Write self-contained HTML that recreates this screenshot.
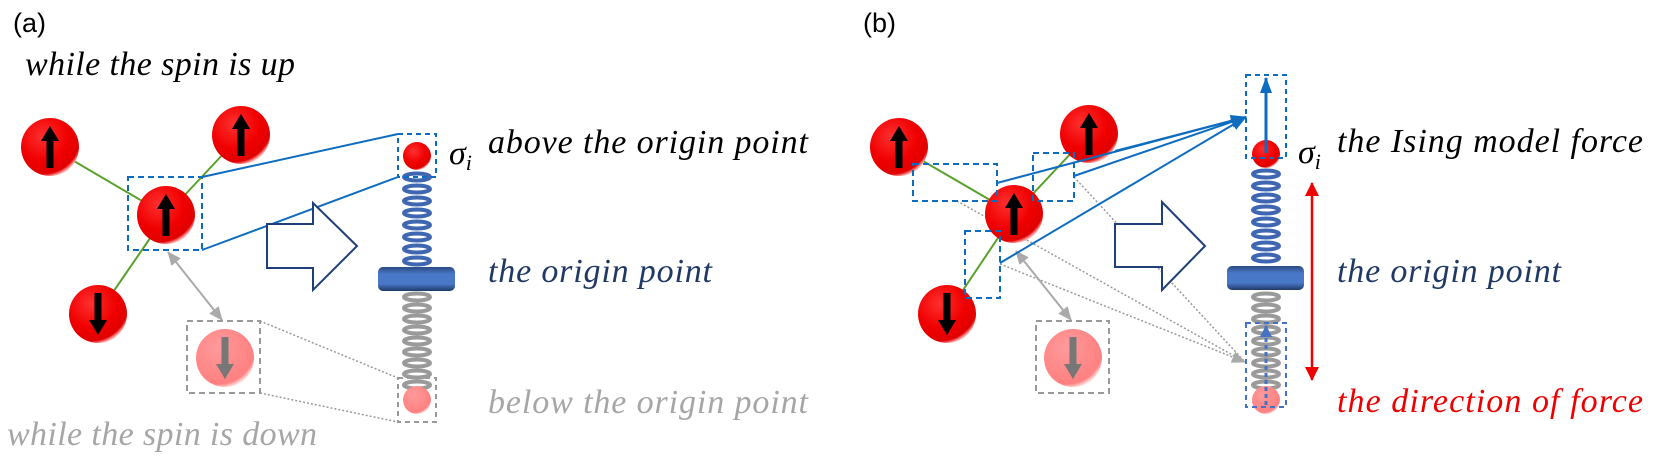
<!DOCTYPE html>
<html><head><meta charset="utf-8"><style>
html,body{margin:0;padding:0;background:#fff;}
svg{display:block}
.t{font-family:"Liberation Serif",serif;font-style:italic;font-size:34px}
.l{font-family:"Liberation Sans",sans-serif;font-size:27px}
</style></head><body>
<svg width="1653" height="460" viewBox="0 0 1653 460" xmlns="http://www.w3.org/2000/svg">
<defs>
<radialGradient id="rg" cx="0.38" cy="0.32" r="0.7">
<stop offset="0" stop-color="#ff3030"/><stop offset="0.6" stop-color="#f00000"/><stop offset="0.92" stop-color="#e00000"/><stop offset="1" stop-color="#ffb0b0"/></radialGradient>
<radialGradient id="rf" cx="0.38" cy="0.32" r="0.7">
<stop offset="0" stop-color="#ff9a9a"/><stop offset="0.9" stop-color="#ff8080"/><stop offset="1" stop-color="#ffd8d8"/></radialGradient>
<linearGradient id="pl" x1="0" y1="0" x2="0" y2="1"><stop offset="0" stop-color="#2a4a80"/><stop offset="0.3" stop-color="#4a78c8"/><stop offset="0.7" stop-color="#4a78c8"/><stop offset="1" stop-color="#1f3a66"/></linearGradient>
<g id="up"><polygon points="0,-21 -9,-6 -3.5,-6 -3.5,21 3.5,21 3.5,-6 9,-6" fill="#000"/></g>
<g id="dn"><polygon points="0,21 -9,6 -3.5,6 -3.5,-21 3.5,-21 3.5,6 9,6" fill="#000"/></g>
<g id="dng"><polygon points="0,21 -9,6 -3.5,6 -3.5,-21 3.5,-21 3.5,6 9,6" fill="#777"/></g>
<g id="bs" fill="none" stroke="#3f66b0" stroke-width="4">
<ellipse cx="0" cy="0" rx="13" ry="3.5"/><ellipse cx="0" cy="12" rx="13" ry="3.5"/><ellipse cx="0" cy="24" rx="13" ry="3.5"/><ellipse cx="0" cy="36" rx="13" ry="3.5"/><ellipse cx="0" cy="48" rx="13" ry="3.5"/><ellipse cx="0" cy="60" rx="13" ry="3.5"/><ellipse cx="0" cy="72" rx="13" ry="3.5"/><ellipse cx="0" cy="84" rx="13" ry="3.5"/></g>
<g id="gs" fill="none" stroke="#9a9a9a" stroke-width="4">
<ellipse cx="0" cy="0" rx="13" ry="3.5"/><ellipse cx="0" cy="11" rx="13" ry="3.5"/><ellipse cx="0" cy="22" rx="13" ry="3.5"/><ellipse cx="0" cy="33" rx="13" ry="3.5"/><ellipse cx="0" cy="44" rx="13" ry="3.5"/><ellipse cx="0" cy="55" rx="13" ry="3.5"/><ellipse cx="0" cy="66" rx="13" ry="3.5"/><ellipse cx="0" cy="77" rx="13" ry="3.5"/><ellipse cx="0" cy="88" rx="13" ry="3.5"/></g>
<marker id="abig" markerWidth="16" markerHeight="12" refX="15" refY="6" orient="auto" markerUnits="userSpaceOnUse"><path d="M0,0 L16,6 L0,12z" fill="#0d6cbf"/></marker>
<marker id="ag" markerWidth="14" markerHeight="12" refX="13" refY="6" orient="auto-start-reverse" markerUnits="userSpaceOnUse"><path d="M0,0 L14,6 L0,12z" fill="#aaa"/></marker>
<marker id="ar" markerWidth="14" markerHeight="14" refX="13" refY="7" orient="auto-start-reverse" markerUnits="userSpaceOnUse"><path d="M0,0 L14,7 L0,14z" fill="#e00"/></marker>
<marker id="abd" markerWidth="12" markerHeight="12" refX="11" refY="6" orient="auto" markerUnits="userSpaceOnUse"><path d="M0,0 L12,6 L0,12z" fill="#4472c4"/></marker>
</defs>

<text x="13" y="32" class="l">(a)</text>
<text x="863" y="32" class="l">(b)</text>

<!-- Panel A -->
<g stroke="#5aa02c" stroke-width="2"><line x1="166" y1="215" x2="50" y2="147"/><line x1="166" y1="215" x2="241" y2="135"/><line x1="166" y1="215" x2="98" y2="314"/></g>
<line x1="168" y1="252" x2="222" y2="320" stroke="#aaa" stroke-width="2" marker-start="url(#ag)" marker-end="url(#ag)"/>
<circle cx="50" cy="147" r="29" fill="url(#rg)"/><use href="#up" x="50" y="147"/>
<circle cx="241" cy="135" r="29" fill="url(#rg)"/><use href="#up" x="241" y="135"/>
<circle cx="166" cy="215" r="29" fill="url(#rg)"/><use href="#up" x="166" y="215"/>
<circle cx="98" cy="314" r="29" fill="url(#rg)"/><use href="#dn" x="98" y="314"/>
<circle cx="225" cy="358" r="29" fill="url(#rf)"/><use href="#dng" x="225" y="358"/>
<rect x="128" y="177" width="74" height="73" fill="none" stroke="#0d6cbf" stroke-width="2" stroke-dasharray="6,4"/>
<rect x="187" y="321" width="73" height="72" fill="none" stroke="#999" stroke-width="2" stroke-dasharray="6,4"/>
<line x1="202" y1="177" x2="398" y2="134" stroke="#0d6cbf" stroke-width="2"/>
<line x1="202" y1="250" x2="398" y2="177" stroke="#0d6cbf" stroke-width="2"/>
<g stroke="#999" stroke-width="1.5" stroke-dasharray="2,2"><line x1="260" y1="321" x2="398" y2="378"/><line x1="260" y1="393" x2="398" y2="422"/></g>
<polygon points="267,224 313,224 313,203 357,246 313,290 313,268 267,268" fill="#fff" stroke="#1f3f7a" stroke-width="2"/>
<use href="#bs" x="417" y="177"/>
<use href="#gs" x="417" y="297"/>
<rect x="378" y="267" width="77" height="24" rx="5" fill="url(#pl)"/>
<circle cx="417" cy="156" r="14" fill="url(#rg)"/>
<circle cx="417" cy="400" r="14" fill="url(#rf)"/>
<rect x="398" y="134" width="38" height="43" fill="none" stroke="#0d6cbf" stroke-width="2" stroke-dasharray="5,4"/>
<rect x="398" y="378" width="38" height="44" fill="none" stroke="#999" stroke-width="2" stroke-dasharray="5,4"/>
<text x="449" y="164" class="t" font-style="normal">σ<tspan font-size="22" font-style="italic" dy="6">i</tspan></text>
<text x="25" y="75" class="t" textLength="270">while the spin is up</text>
<text x="7" y="445" class="t" fill="#a6a6a6" textLength="310">while the spin is down</text>
<text x="488" y="153" class="t" textLength="320">above the origin point</text>
<text x="488" y="282" class="t" fill="#1f3864" textLength="224">the origin point</text>
<text x="488" y="413" class="t" fill="#a6a6a6" textLength="320">below the origin point</text>

<!-- Panel B -->
<g stroke="#5aa02c" stroke-width="2"><line x1="1014" y1="214" x2="899" y2="147"/><line x1="1014" y1="214" x2="1089" y2="134"/><line x1="1014" y1="214" x2="947" y2="314"/></g>
<g stroke="#999" stroke-width="1.5" stroke-dasharray="2,2" fill="none"><line x1="957" y1="201" x2="1245" y2="362"/><line x1="1074" y1="177" x2="1245" y2="362"/><line x1="1000" y1="264" x2="1245" y2="362" marker-end="url(#ag)"/></g>
<line x1="1016" y1="251" x2="1071" y2="320" stroke="#aaa" stroke-width="2" marker-start="url(#ag)" marker-end="url(#ag)"/>
<circle cx="899" cy="147" r="29" fill="url(#rg)"/><use href="#up" x="899" y="147"/>
<circle cx="1089" cy="134" r="29" fill="url(#rg)"/><use href="#up" x="1089" y="134"/>
<circle cx="1014" cy="214" r="29" fill="url(#rg)"/><use href="#up" x="1014" y="214"/>
<circle cx="947" cy="314" r="29" fill="url(#rg)"/><use href="#dn" x="947" y="314"/>
<circle cx="1073" cy="358" r="29" fill="url(#rf)"/><use href="#dng" x="1073" y="358"/>
<g fill="none" stroke="#0d6cbf" stroke-width="2" stroke-dasharray="6,4">
<rect x="913" y="164" width="84" height="37"/><rect x="1033" y="153" width="41" height="48"/><rect x="965" y="231" width="35" height="67"/></g>
<rect x="1036" y="321" width="73" height="72" fill="none" stroke="#999" stroke-width="2" stroke-dasharray="6,4"/>
<g stroke="#0d6cbf" stroke-width="2" fill="none">
<line x1="997" y1="183" x2="1246" y2="117" marker-end="url(#abig)"/>
<line x1="1074" y1="176" x2="1246" y2="117" marker-end="url(#abig)"/>
<line x1="1000" y1="263" x2="1246" y2="117" marker-end="url(#abig)"/>
<line x1="1115" y1="151" x2="1246" y2="117"/></g>
<polygon points="1115,224 1162,224 1162,202 1205,246 1162,290 1162,267 1115,267" fill="#fff" stroke="#1f3f7a" stroke-width="2"/>
<use href="#bs" x="1266" y="174"/>
<use href="#gs" x="1266" y="297"/>
<rect x="1227" y="266" width="77" height="24" rx="5" fill="url(#pl)"/>
<circle cx="1266" cy="154" r="14" fill="url(#rg)"/>
<circle cx="1266" cy="400" r="14" fill="url(#rf)"/>
<line x1="1266" y1="153" x2="1266" y2="78" stroke="#0d6cbf" stroke-width="3" marker-end="url(#abig)"/>
<line x1="1266" y1="405" x2="1266" y2="326" stroke="#4472c4" stroke-width="3" stroke-dasharray="4,3" marker-end="url(#abd)"/>
<rect x="1246" y="75" width="40" height="83" fill="none" stroke="#0d6cbf" stroke-width="2" stroke-dasharray="5,4"/>
<rect x="1246" y="323" width="40" height="84" fill="none" stroke="#4472c4" stroke-width="2" stroke-dasharray="5,4"/>
<line x1="1312" y1="183" x2="1312" y2="380" stroke="#e00" stroke-width="2.5" marker-start="url(#ar)" marker-end="url(#ar)"/>
<text x="1298" y="163" class="t" font-style="normal">σ<tspan font-size="22" font-style="italic" dy="6">i</tspan></text>
<text x="1337" y="152" class="t" textLength="306">the Ising model force</text>
<text x="1337" y="282" class="t" fill="#1f3864" textLength="224">the origin point</text>
<text x="1337" y="412" class="t" fill="#ee0000" textLength="306">the direction of force</text>
</svg>
</body></html>
